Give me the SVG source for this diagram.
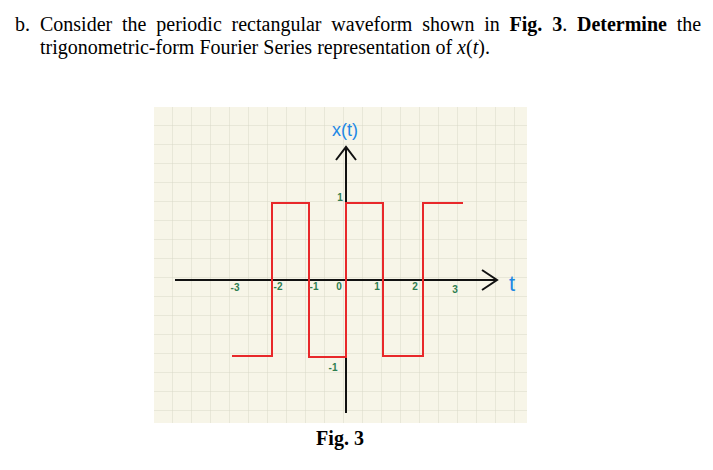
<svg xmlns="http://www.w3.org/2000/svg" width="713" height="470" viewBox="0 0 713 470">
<defs>
<pattern id="g" x="154" y="107" width="19" height="19" patternUnits="userSpaceOnUse"><path d="M19 0V19H0" fill="none" stroke="#d9d9c8" stroke-width="1"/></pattern>
<style>
.t{font-family:"Liberation Serif",serif;font-size:20px;fill:#000}
.n{font-family:"Liberation Sans",sans-serif;font-size:10px;font-weight:bold;fill:#2e7d4f}
.b{font-family:"Liberation Sans",sans-serif;fill:#1e88e5}
</style>
</defs>
<text class="t" x="15" y="31">b.</text>
<text class="t" x="40" y="31" word-spacing="4.8">Consider the periodic rectangular waveform shown in <tspan font-weight="bold">Fig. 3</tspan>. <tspan font-weight="bold">Determine</tspan> the</text>
<text class="t" x="40" y="54">trigonometric-form Fourier Series representation of <tspan font-style="italic">x</tspan>(<tspan font-style="italic">t</tspan>).</text>
<rect x="154" y="107" width="373" height="316" fill="#f7f5e8"/>
<rect x="154" y="107" width="373" height="316" fill="url(#g)"/>
<g id="axes" stroke="#111" stroke-width="2" fill="none">
<path d="M175 280H497M482 270L497 280L482 290"/>
<path d="M346 413V147M336 160L346 147L356 160"/>
</g>
<g id="wave"><path d="M232 356H272V203H309V357H346V203H383V356H423V203H463" fill="none" stroke="#e8282a" stroke-width="2"/></g>
<g id="labels">
<text class="n" x="235" y="291" text-anchor="middle">-3</text>
<text class="n" x="278" y="290" text-anchor="middle">-2</text>
<text class="n" x="314" y="290" text-anchor="middle">-1</text>
<text class="n" x="339" y="290" text-anchor="middle">0</text>
<text class="n" x="377" y="290" text-anchor="middle">1</text>
<text class="n" x="415" y="290" text-anchor="middle">2</text>
<text class="n" x="455" y="293" text-anchor="middle">3</text>
<text class="n" x="340" y="201" text-anchor="middle">1</text>
<text class="n" x="333" y="371" text-anchor="middle">-1</text>
<text class="b" x="345" y="136" font-size="18" text-anchor="middle">x(t)</text>
<text class="b" x="512" y="291" font-size="22" text-anchor="middle">t</text>
</g>
<text class="t" x="340" y="445" text-anchor="middle" font-weight="bold" font-size="19">Fig. 3</text>
</svg>
